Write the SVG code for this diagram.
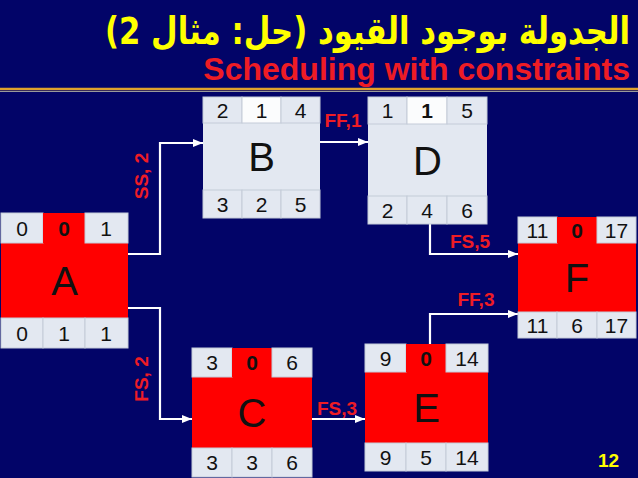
<svg xmlns="http://www.w3.org/2000/svg" width="638" height="478" viewBox="0 0 638 478">
<defs>
<marker id="ah" markerUnits="userSpaceOnUse" markerWidth="10" markerHeight="10" viewBox="0 0 10 10" refX="10" refY="5" orient="auto">
<path d="M0,1 L10,5 L0,9 Z" fill="#ffffff"/>
</marker>
</defs>
<style>
.bg{fill:#020468}
.cell{fill:#e3e8f1;stroke:#c4cbd8;stroke-width:1}
.wcell{fill:#fbfcfd;stroke:#c4cbd8;stroke-width:1}
.rcell{fill:#ff0000;stroke:none}
.body{fill:#e3e8f1}
.rbody{fill:#ff0000}
.num{font-family:"Liberation Sans",Arial,sans-serif;font-size:21px;fill:#111;text-anchor:middle}
.bnum{font-family:"Liberation Sans",Arial,sans-serif;font-size:21px;font-weight:bold;fill:#111;text-anchor:middle}
.let{font-family:"Liberation Sans",Arial,sans-serif;font-size:40px;fill:#111;text-anchor:middle}
.lbl{font-family:"Liberation Sans",Arial,sans-serif;font-size:19px;font-weight:bold;fill:#ee1c25;text-anchor:middle}
.con{fill:none;stroke:#ffffff;stroke-width:2.2;marker-end:url(#ah)}
</style>
<rect class="bg" x="0" y="0" width="638" height="478"/>
<text transform="translate(630,44) scale(0.853,1.05)" x="0" y="0" text-anchor="end" font-family="'DejaVu Sans','Noto Sans',sans-serif" font-weight="bold" font-size="36" fill="#ffff00">&#x200F;الجدولة بوجود القيود (حل: مثال 2)&#x200F;</text>
<text x="630" y="80" text-anchor="end" font-family="'Liberation Sans',Arial,sans-serif" font-weight="bold" font-size="32" fill="#ee1c25">Scheduling with constraints</text>
<line x1="0" y1="89" x2="638" y2="89" stroke="#e0a22c" stroke-width="2.5"/>
<line x1="0" y1="91.5" x2="638" y2="91.5" stroke="#9a9a9a" stroke-width="1"/>

<g id="connectors">
<path class="con" d="M128,254 H160 V143 H203"/>
<path class="con" d="M128,308 H160 V419 H192"/>
<path class="con" d="M320,142 H368"/>
<path class="con" d="M312,419 H365"/>
<path class="con" d="M430,224 V254 H518"/>
<path class="con" d="M430,344 V314 H518"/>
<text class="lbl" transform="translate(148,176) rotate(-90)">SS, 2</text>
<text class="lbl" transform="translate(148,379) rotate(-90)">FS, 2</text>
<text class="lbl" x="343" y="127">FF,1</text>
<text class="lbl" x="470" y="248">FS,5</text>
<text class="lbl" x="476" y="306">FF,3</text>
<text class="lbl" x="337" y="415">FS,3</text>
</g>

<g id="A">
<rect class="rbody" x="1" y="243" width="127" height="75"/>
<rect class="cell" x="1" y="213" width="42" height="30"/>
<rect class="rcell" x="43" y="213" width="42" height="30"/>
<rect class="cell" x="85" y="213" width="43" height="30"/>
<rect class="cell" x="1" y="318" width="42" height="30"/>
<rect class="cell" x="43" y="318" width="42" height="30"/>
<rect class="cell" x="85" y="318" width="43" height="30"/>
<text class="num" x="22" y="236">0</text><text class="bnum" x="64" y="236">0</text><text class="num" x="106" y="236">1</text>
<text class="let" x="64.5" y="295">A</text>
<text class="num" x="22" y="341">0</text><text class="num" x="64" y="341">1</text><text class="num" x="106" y="341">1</text>
</g>

<g id="B">
<rect class="body" x="203" y="123" width="117" height="67"/>
<rect class="cell" x="203" y="97" width="39" height="26"/>
<rect class="wcell" x="242" y="97" width="39" height="26"/>
<rect class="cell" x="281" y="97" width="39" height="26"/>
<rect class="cell" x="203" y="190" width="39" height="28"/>
<rect class="cell" x="242" y="190" width="39" height="28"/>
<rect class="cell" x="281" y="190" width="39" height="28"/>
<text class="num" x="222.5" y="118">2</text><text class="num" x="261.5" y="118">1</text><text class="num" x="300.5" y="118">4</text>
<text class="let" x="261.5" y="171">B</text>
<text class="num" x="222.5" y="212">3</text><text class="num" x="261.5" y="212">2</text><text class="num" x="300.5" y="212">5</text>
</g>

<g id="C">
<rect class="rbody" x="192" y="377" width="120" height="71"/>
<rect class="cell" x="192" y="348" width="40" height="29"/>
<rect class="rcell" x="232" y="348" width="40" height="29"/>
<rect class="cell" x="272" y="348" width="40" height="29"/>
<rect class="cell" x="192" y="448" width="40" height="29"/>
<rect class="cell" x="232" y="448" width="40" height="29"/>
<rect class="cell" x="272" y="448" width="40" height="29"/>
<text class="num" x="212" y="370">3</text><text class="bnum" x="252" y="370">0</text><text class="num" x="292" y="370">6</text>
<text class="let" x="252" y="427">C</text>
<text class="num" x="212" y="470">3</text><text class="num" x="252" y="470">3</text><text class="num" x="292" y="470">6</text>
</g>

<g id="D">
<rect class="body" x="368" y="124" width="119" height="72"/>
<rect class="cell" x="368" y="97" width="39" height="27"/>
<rect class="wcell" x="407" y="97" width="40" height="27"/>
<rect class="cell" x="447" y="97" width="40" height="27"/>
<rect class="cell" x="368" y="196" width="39" height="28"/>
<rect class="cell" x="407" y="196" width="40" height="28"/>
<rect class="cell" x="447" y="196" width="40" height="28"/>
<text class="num" x="387.5" y="118">1</text><text class="bnum" x="427" y="118">1</text><text class="num" x="467" y="118">5</text>
<text class="let" x="427.5" y="174.5">D</text>
<text class="num" x="387.5" y="218">2</text><text class="num" x="427" y="218">4</text><text class="num" x="467" y="218">6</text>
</g>

<g id="E">
<rect class="rbody" x="365" y="372" width="123" height="71"/>
<rect class="cell" x="365" y="344" width="41" height="28"/>
<rect class="rcell" x="406" y="344" width="40" height="28"/>
<rect class="cell" x="446" y="344" width="42" height="28"/>
<rect class="cell" x="365" y="443" width="41" height="28"/>
<rect class="cell" x="406" y="443" width="40" height="28"/>
<rect class="cell" x="446" y="443" width="42" height="28"/>
<text class="num" x="385.5" y="365.5">9</text><text class="bnum" x="426" y="365.5">0</text><text class="num" x="467" y="365.5">14</text>
<text class="let" x="426.5" y="422">E</text>
<text class="num" x="385.5" y="464.5">9</text><text class="num" x="426" y="464.5">5</text><text class="num" x="467" y="464.5">14</text>
</g>

<g id="F">
<rect class="rbody" x="518" y="243" width="118" height="69"/>
<rect class="cell" x="518" y="217" width="39" height="26"/>
<rect class="rcell" x="557" y="217" width="40" height="26"/>
<rect class="cell" x="597" y="217" width="39" height="26"/>
<rect class="cell" x="518" y="312" width="39" height="26"/>
<rect class="cell" x="557" y="312" width="40" height="26"/>
<rect class="cell" x="597" y="312" width="39" height="26"/>
<text class="num" x="537.5" y="237.5">11</text><text class="bnum" x="577" y="237.5">0</text><text class="num" x="616.5" y="237.5">17</text>
<text class="let" x="577" y="292">F</text>
<text class="num" x="537.5" y="332.5">11</text><text class="num" x="577" y="332.5">6</text><text class="num" x="616.5" y="332.5">17</text>
</g>

<text x="608.5" y="467" text-anchor="middle" font-family="'Liberation Sans',Arial,sans-serif" font-weight="bold" font-size="19" fill="#ffff00">12</text>
</svg>
